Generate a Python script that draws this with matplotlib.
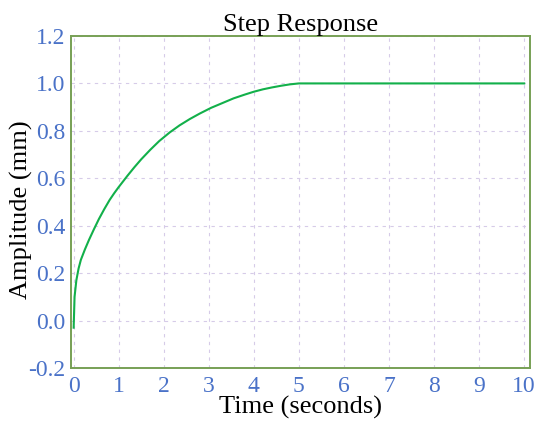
import matplotlib
matplotlib.use("Agg")
import matplotlib.pyplot as plt

# Data
time_s = [0.0, 0.02, 0.06, 0.11, 0.16, 0.25, 0.34, 0.45, 0.56, 0.68, 0.8, 0.9,
          1.0, 1.2, 1.35, 1.5, 1.7, 1.9, 2.13, 2.35, 2.58, 2.8, 3.05, 3.3,
          3.55, 3.8, 4.0, 4.2, 4.4, 4.6, 4.8, 5.0, 7.5, 10.0]
amplitude = [-0.03, 0.10, 0.17, 0.22, 0.256, 0.30, 0.34, 0.385, 0.428, 0.47,
             0.509, 0.537, 0.563, 0.612, 0.647, 0.680, 0.720, 0.757, 0.793,
             0.823, 0.850, 0.873, 0.897, 0.917, 0.937, 0.953, 0.965, 0.975,
             0.983, 0.990, 0.996, 1.0, 1.0, 1.0]
x_ticks = [0, 1, 2, 3, 4, 5, 6, 7, 8, 9, 10]
y_ticks = [-0.2, 0.0, 0.2, 0.4, 0.6, 0.8, 1.0, 1.2]
y_tick_labels = ["-0.2", "0.0", "0.2", "0.4", "0.6", "0.8", "1.0", "1.2"]

plt.rcParams['font.family'] = ['Liberation Serif', 'DejaVu Serif']

fig = plt.figure(figsize=(5.5, 4.3), dpi=100)
ax = fig.add_axes([0.129, 0.1442, 0.8346, 0.7721])

ax.plot(time_s, amplitude, color='#12b04a', linewidth=1.5,
        solid_joinstyle='round')

ax.set_xlim(-0.06, 10.13)
ax.set_ylim(-0.2, 1.2)
ax.set_xticks(x_ticks)
ax.set_yticks(y_ticks)
ax.set_yticklabels(y_tick_labels)

ax.grid(True, color='#d6cbe8', linestyle=(0, (3, 4)), linewidth=0.8)
ax.set_axisbelow(True)

for s in ax.spines.values():
    s.set_color('#77a055')
    s.set_linewidth(1.4)

ax.tick_params(axis='both', length=0, labelsize=17, labelcolor='#4a72c8')
ax.tick_params(axis='x', pad=6)
ax.tick_params(axis='y', pad=4)

ax.set_title("Step Response", fontsize=19, color='black', pad=2)
ax.set_xlabel("Time (seconds)", fontsize=19, labelpad=-1)
ax.set_ylabel("Amplitude (mm)", fontsize=19)
ax.yaxis.set_label_coords(-0.083, 0.476)

fig.savefig("out.png", dpi=100)
